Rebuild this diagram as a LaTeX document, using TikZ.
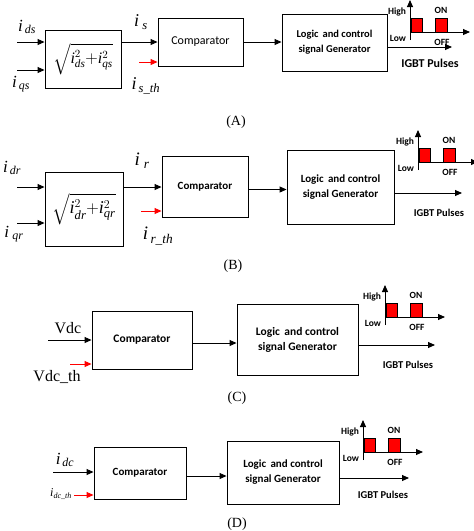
\documentclass[tikz,border=0pt]{standalone}
\usepackage{amsmath}
\usepackage{fontspec}
\setmainfont{Liberation Serif}
\newfontfamily\calibri{Carlito}
\usetikzlibrary{positioning, arrows.meta, calc}

\tikzset{
  blk/.style={draw=black, line width=0.9pt, inner sep=2pt, align=center},
  sig/.style={-{Triangle[length=7pt,width=6pt]}, line width=0.9pt},
  thr/.style={sig, red},
  txt/.style={font=\calibri\bfseries\fontsize{#1}{15}\selectfont, align=center},
  sym/.style={font=\fontsize{#1}{#1}\selectfont, inner sep=1pt},
  caplbl/.style={font=\fontsize{14}{16}\selectfont},
  pulses/.pic={
    \draw[sig] (0,8) -- (0,-32);
    \draw[sig] (0,0) -- (60,0);
    \draw[line width=0.7pt, fill=red] (1,0) rectangle (12,-14) (25,0) rectangle (37,-14);
    \node[txt=9.5, anchor=east] (-high) at (-0.5,-20) {High};
    \node[txt=9.5, anchor=east] (-low) at (-0.5,6) {Low};
    \node[txt=9.5] (-on) at (31,-22) {ON};
    \node[txt=9.5] (-off) at (32,10) {OFF};
  }
}

\begin{document}
\begin{tikzpicture}[x=1pt, y=-1pt]
  \useasboundingbox (0,0) rectangle (474,531);

  % (A) stator current
  \node[blk, minimum width=76pt, minimum height=58pt, sym=16] (sqA) at (83,59)
    {$\sqrt{\mathit{i}^2_{\mathit{ds}}{+}\mathit{i}^2_{\mathit{qs}}}$};
  \node[blk, minimum width=85pt, minimum height=48pt, font=\calibri\fontsize{12}{14}\selectfont] (cmpA) at (200.5,42) {Comparator};
  \node[blk, minimum width=105pt, minimum height=57pt, txt=10.5] (logA) at (334.5,42.5) {Logic\, and control\\signal Generator};
  \coordinate (idsA) at (17,42);
  \coordinate (iqsA) at (17,70);
  \coordinate (thA) at (139,62);
  \coordinate (outA) at (452,47);
  \draw[sig] (idsA) -- (idsA -| sqA.west);
  \draw[sig] (iqsA) -- (iqsA -| sqA.west);
  \draw[sig] (sqA.east |- idsA) -- (idsA -| cmpA.west);
  \draw[thr] (thA) -- (thA -| cmpA.west);
  \draw[sig] (cmpA.east) -- (cmpA.east -| logA.west);
  \draw[sig] (logA.east |- outA) -- (outA);
  \node[sym=17] (lidsA) at (27,27) {$\mathit{i}_{\,\mathit{ds}}$};
  \node[sym=17] (liqsA) at (21,84) {$\mathit{i}_{\,\mathit{qs}}$};
  \node[sym=18] (lisA) at (141,22) {$\mathit{i}_{\;\mathit{s}}$};
  \node[sym=18] (lthA) at (146,86) {$\mathit{i}_{\,\mathit{s\_th}}$};
  \node[txt=12] (igA) at (430,63) {IGBT Pulses};
  \pic (pA) at (410,32) {pulses};
  \node[caplbl] (capA) at (236,122) {(A)};

  % (B) rotor current
  \node[blk, minimum width=78pt, minimum height=74pt, sym=18] (sqB) at (84,209)
    {$\sqrt{\mathit{i}^2_{\mathit{dr}}{+}\mathit{i}^2_{\mathit{qr}}}$};
  \node[blk, minimum width=86pt, minimum height=61pt, txt=11] (cmpB) at (205,186.5) {Comparator};
  \node[blk, minimum width=107pt, minimum height=74pt, txt=11] (logB) at (340.5,187) {Logic\, and control\\signal Generator};
  \coordinate (idrB) at (17,187);
  \coordinate (iqrB) at (17,223);
  \coordinate (thB) at (141,211);
  \coordinate (outB) at (462,193);
  \draw[sig] (idrB) -- (idrB -| sqB.west);
  \draw[sig] (iqrB) -- (iqrB -| sqB.west);
  \draw[sig] (sqB.east |- idrB) -- (idrB -| cmpB.west);
  \draw[thr] (thB) -- (thB -| cmpB.west);
  \draw[sig] ([yshift=-3pt]cmpB.east) -- ([yshift=-3pt]cmpB.east -| logB.west);
  \draw[sig] (logB.east |- outB) -- (outB);
  \node[sym=17] (lidrB) at (12,168) {$\mathit{i}_{\,\mathit{dr}}$};
  \node[sym=17] (liqrB) at (14,234) {$\mathit{i}_{\;\mathit{qr}}$};
  \node[sym=19] (lirB) at (142,161) {$\mathit{i}_{\;\mathit{r}}$};
  \node[sym=19] (lthB) at (158,236) {$\mathit{i}_{\,\mathit{r\_th}}$};
  \node[txt=10.5] (igB) at (439,213) {IGBT Pulses};
  \pic (pB) at (418,162) {pulses};
  \node[caplbl] (capB) at (233,266) {(B)};

  % (C) dc-link voltage
  \node[blk, minimum width=100pt, minimum height=58pt, txt=11.5] (cmpC) at (142,340) {Comparator};
  \node[blk, minimum width=121pt, minimum height=71pt, txt=11.5] (logC) at (297.5,339.5) {Logic\, and control\\signal Generator};
  \coordinate (vdcC) at (48,340);
  \coordinate (thC) at (70,364);
  \coordinate (outC) at (435,345);
  \draw[sig] (vdcC) -- (vdcC -| cmpC.west);
  \draw[thr] (thC) -- (thC -| cmpC.west);
  \draw[sig] ([yshift=-3pt]cmpC.east) -- ([yshift=-3pt]cmpC.east -| logC.west);
  \draw[sig] (logC.east |- outC) -- (outC);
  \node[sym=16] (lvdcC) at (68,328) {Vdc};
  \node[sym=16] (lthC) at (57,377) {Vdc\_th};
  \node[txt=10.5] (igC) at (408,365) {IGBT Pulses};
  \pic (pC) at (385,317) {pulses};
  \node[caplbl] (capC) at (237,398) {(C)};

  % (D) dc current
  \node[blk, minimum width=92pt, minimum height=52pt, txt=11] (cmpD) at (140,473) {Comparator};
  \node[blk, minimum width=112pt, minimum height=63pt, txt=11] (logD) at (283,472.5) {Logic\, and control\\signal Generator};
  \coordinate (idcD) at (53,472);
  \coordinate (thD) at (74,495);
  \coordinate (outD) at (409,478);
  \draw[sig] (idcD) -- (idcD -| cmpD.west);
  \draw[thr] (thD) -- (thD -| cmpD.west);
  \draw[sig] ([yshift=-3pt]cmpD.east) -- ([yshift=-3pt]cmpD.east -| logD.west);
  \draw[sig] (logD.east |- outD) -- (outD);
  \node[sym=17] (lidcD) at (65,460) {$\mathit{i}_{\,\mathit{dc}}$};
  \node[sym=12] (lthD) at (61,494) {$\mathit{i}_{\mathit{dc\_th}}$};
  \node[txt=10.5] (igD) at (383,495) {IGBT Pulses};
  \pic (pD) at (363,452) {pulses};
  \node[caplbl] (capD) at (237,524) {(D)};
\end{tikzpicture}
\end{document}
